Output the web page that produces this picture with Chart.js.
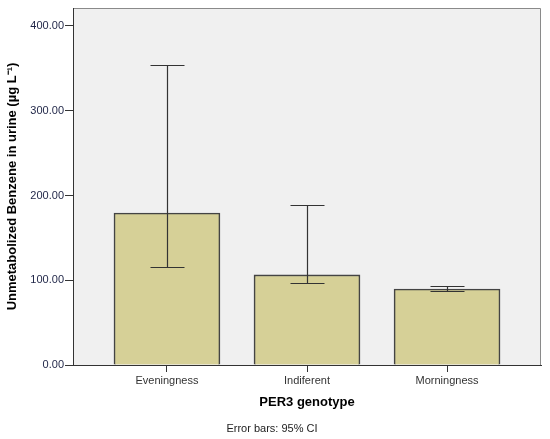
<!DOCTYPE html>
<html>
<head>
<meta charset="utf-8">
<script src="https://cdn.jsdelivr.net/npm/chart.js@4.4.0/dist/chart.umd.min.js"></script>
<style>
html,body{margin:0;padding:0;background:#fff;}
#wrap{width:550px;height:439px;position:relative;}
</style>
</head>
<body>
<div id="wrap"><canvas id="c"></canvas></div>
<script>
const categories = ['Eveningness', 'Indiferent', 'Morningness'];
const means = [179.3, 106.3, 89.6];
const ciLower = [115.5, 96.4, 87.0];
const ciUpper = [354.0, 189.1, 92.8];
const yTicks = [0, 100, 200, 300, 400];
const yTitle = 'Unmetabolized Benzene in urine (\u00b5g L\u207b\u00b9)';
const xTitle = 'PER3 genotype';
const footnote = 'Error bars: 95% CI';

const FONT = "'Liberation Sans', Arial, sans-serif";

const framePlugin = {
  id: 'frame',
  beforeDraw(chart) {
    const {ctx, chartArea: a} = chart;
    ctx.save();
    ctx.fillStyle = '#f0f0f0';
    ctx.fillRect(a.left, a.top, a.right - a.left, a.bottom - a.top);
    ctx.strokeStyle = '#8a8a8a';
    ctx.lineWidth = 1;
    ctx.beginPath();
    ctx.moveTo(a.left, a.top + 0.5);
    ctx.lineTo(a.right - 0.5, a.top + 0.5);
    ctx.lineTo(a.right - 0.5, a.bottom);
    ctx.stroke();
    ctx.restore();
  },
  afterDatasetsDraw(chart) {
    const {ctx} = chart;
    const xs = chart.scales.x, ys = chart.scales.y;
    ctx.save();
    ctx.strokeStyle = '#333333';
    ctx.lineWidth = 1.2;
    for (let i = 0; i < categories.length; i++) {
      const x = Math.round(xs.getPixelForValue(i)) + 0.5;
      const yl = Math.round(ys.getPixelForValue(ciLower[i])) + 0.5;
      const yu = Math.round(ys.getPixelForValue(ciUpper[i])) + 0.5;
      ctx.beginPath();
      ctx.moveTo(x, yl); ctx.lineTo(x, yu);
      ctx.moveTo(x - 17, yl); ctx.lineTo(x + 17, yl);
      ctx.moveTo(x - 17, yu); ctx.lineTo(x + 17, yu);
      ctx.stroke();
    }
    ctx.restore();
  },
  afterDraw(chart) {
    const {ctx} = chart;
    ctx.save();
    ctx.fillStyle = '#222';
    ctx.font = '11px ' + FONT;
    ctx.textAlign = 'center';
    ctx.textBaseline = 'middle';
    ctx.fillText(footnote, 272, 429);
    ctx.restore();
  }
};

new Chart(document.getElementById('c'), {
  type: 'bar',
  data: {
    datasets: [{
      data: categories.map((c, i) => ({x: i, y: means[i]})),
      backgroundColor: '#d6d097',
      borderColor: '#444444',
      borderWidth: 1.6,
      borderSkipped: 'bottom',
      barThickness: 106
    }]
  },
  options: {
    responsive: true,
    maintainAspectRatio: false,
    animation: false,
    devicePixelRatio: 1,
    layout: {padding: {left: 0, top: 8, right: 9, bottom: 0}},
    plugins: {legend: {display: false}, tooltip: {enabled: false}},
    scales: {
      x: {
        type: 'linear',
        offset: false,
        min: -0.671,
        max: 2.671,
        afterBuildTicks(scale) { scale.ticks = categories.map((c, i) => ({value: i})); },
        afterFit(scale) { scale.height = 74; },
        grid: {offset: false, drawOnChartArea: false, drawTicks: true, tickLength: 7, color: '#333'},
        border: {display: true, color: '#333', width: 1},
        ticks: {
          callback: (v) => categories[v],
          color: '#333',
          font: {family: FONT, size: 11},
          padding: 2,
          maxRotation: 0,
          autoSkip: false
        },
        title: {
          display: true,
          text: xTitle,
          color: '#000',
          font: {family: FONT, size: 13, weight: 'bold'},
          padding: {top: 0, bottom: 29}
        }
      },
      y: {
        min: 0,
        max: 421.2,
        afterBuildTicks(scale) { scale.ticks = yTicks.map(v => ({value: v})); },
        afterFit(scale) { scale.width = 73; },
        grid: {drawOnChartArea: false, drawTicks: true, tickLength: 8, color: '#333'},
        border: {display: true, color: '#333', width: 1},
        ticks: {
          callback: (v) => Number(v).toFixed(2),
          color: '#1e2446',
          font: {family: FONT, size: 11},
          padding: 1
        },
        title: {
          display: true,
          text: yTitle,
          color: '#000',
          font: {family: FONT, size: 13, weight: 'bold'},
          padding: {top: 5, bottom: 0}
        }
      }
    }
  },
  plugins: [framePlugin]
});
</script>
</body>
</html>
